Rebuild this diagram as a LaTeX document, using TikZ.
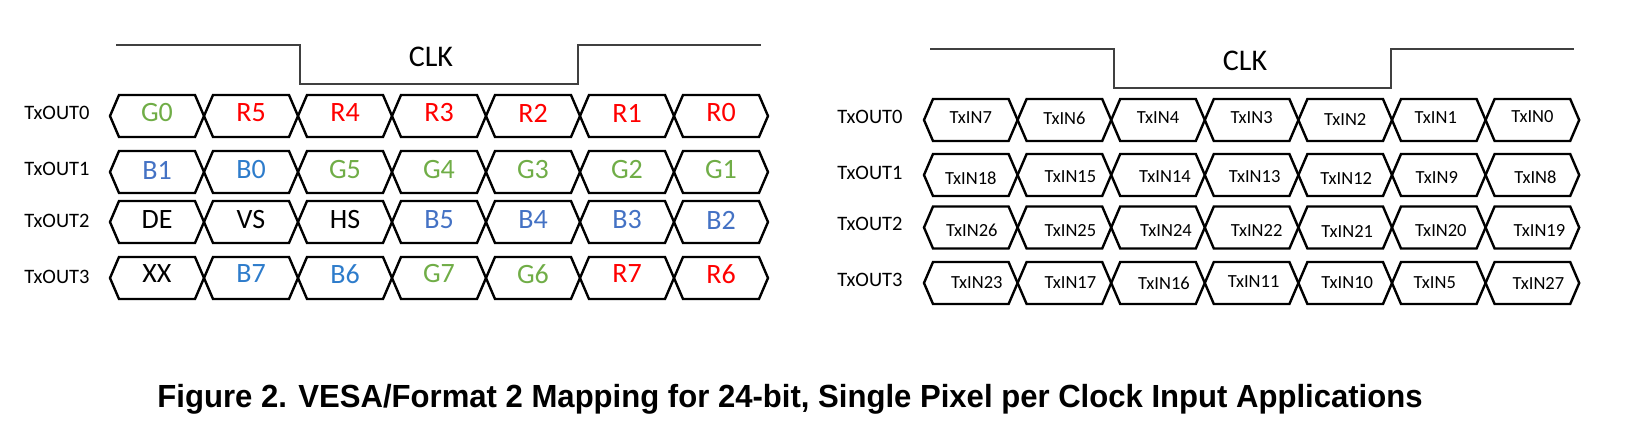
\documentclass[tikz,border=0pt]{standalone}
\usepackage{graphicx}
\usepackage{fontspec}
\setmainfont{Carlito}
\newfontfamily\capfont{Liberation Sans}
\definecolor{cred}{HTML}{FF0000}
\definecolor{cgreen}{HTML}{70AD47}
\definecolor{cblue}{HTML}{4472C4}
\definecolor{cblueb}{HTML}{2E7CCB}
\definecolor{clkgray}{HTML}{404040}
\begin{document}
\begin{tikzpicture}[x=1pt,y=-1pt,
  hexline/.style={line width=2.4pt, line join=miter},
  clkline/.style={draw=clkgray, line width=1.6pt},
  bigtxt/.style={inner sep=0pt, font=\fontsize{28}{28}\selectfont},
  smalltxt/.style={inner sep=0pt, font=\fontsize{18.5}{18.5}\selectfont},
  rowlbl/.style={inner sep=0pt, font=\fontsize{20.5}{20.5}\selectfont},
  clklbl/.style={inner sep=0pt, font=\fontsize{30}{30}\selectfont},
]
\useasboundingbox (0,0) rectangle (1626,440);

% ---------------- left diagram ----------------
\draw[clkline] (116,45) -- (300,45) -- (300,84) -- (578,84) -- (578,45) -- (761,45);
\node[clklbl] (clkL) at (431,57) {CLK};

\foreach \ym in {116,172,222,278} {
  \foreach \k in {0,...,6} {
    \pgfmathsetmacro\xa{110+94*\k}
    \pgfmathsetmacro\xb{110+94*(\k+1)}
    \draw[hexline] (\xa,\ym) -- (\xa+9,\ym-21) -- (\xb-9,\ym-21) -- (\xb,\ym)
      -- (\xb-9,\ym+21) -- (\xa+9,\ym+21) -- cycle;
  }
}

\node[rowlbl] (lL0) at (57,113) {TxOUT0};
\node[rowlbl] (lL1) at (57,169) {TxOUT1};
\node[rowlbl] (lL2) at (57,221) {TxOUT2};
\node[rowlbl] (lL3) at (57,277) {TxOUT3};

\foreach \t/\c [count=\k from 0] in {G0/cgreen,R5/cred,R4/cred,R3/cred,R2/cred,R1/cred,R0/cred}
  \node[bigtxt,text=\c] (La\k) at (157+94*\k,113) {\t};
\foreach \t/\c [count=\k from 0] in {B1/cblue,B0/cblueb,G5/cgreen,G4/cgreen,G3/cgreen,G2/cgreen,G1/cgreen}
  \node[bigtxt,text=\c] (Lb\k) at (157+94*\k,170) {\t};
\foreach \t/\c [count=\k from 0] in {DE/black,VS/black,HS/black,B5/cblue,B4/cblue,B3/cblue,B2/cblue}
  \node[bigtxt,text=\c] (Lc\k) at (157+94*\k,220) {\t};
\foreach \t/\c [count=\k from 0] in {XX/black,B7/cblueb,B6/cblueb,G7/cgreen,G6/cgreen,R7/cred,R6/cred}
  \node[bigtxt,text=\c] (Ld\k) at (157+94*\k,274) {\t};

% ---------------- right diagram ----------------
\draw[clkline] (930,49) -- (1114,49) -- (1114,88) -- (1391,88) -- (1391,49) -- (1574,49);
\node[clklbl] (clkR) at (1245,61) {CLK};

\foreach \ym in {120,175,227.5,283} {
  \foreach \k in {0,...,6} {
    \pgfmathsetmacro\xa{924+93.6*\k}
    \pgfmathsetmacro\xb{924+93.6*(\k+1)}
    \draw[hexline] (\xa,\ym) -- (\xa+9,\ym-21) -- (\xb-9,\ym-21) -- (\xb,\ym)
      -- (\xb-9,\ym+21) -- (\xa+9,\ym+21) -- cycle;
  }
}

\node[rowlbl] (rL0) at (870,117) {TxOUT0};
\node[rowlbl] (rL1) at (870,173) {TxOUT1};
\node[rowlbl] (rL2) at (870,224) {TxOUT2};
\node[rowlbl] (rL3) at (870,280) {TxOUT3};

\foreach \t/\dx/\dy [count=\k from 0] in {TxIN7/0/-2,TxIN6/0/-2,TxIN4/0/-2,TxIN3/0/-2,TxIN2/0/-1,TxIN1/-3/-2,TxIN0/0/-3}
  \node[smalltxt] (Ra\k) at ({970.8+93.6*\k+\dx},{120+\dy}) {\t};
\foreach \t/\dx/\dy [count=\k from 0] in {TxIN18/0/3,TxIN15/6/2,TxIN14/7/2,TxIN13/3/2,TxIN12/1/3,TxIN9/-2/2,TxIN8/3/2}
  \node[smalltxt] (Rb\k) at ({970.8+93.6*\k+\dx},{175+\dy}) {\t};
\foreach \t/\dx/\dy [count=\k from 0] in {TxIN26/1/3,TxIN25/6/3,TxIN24/8/3,TxIN22/5/3,TxIN21/2/4,TxIN20/2/3,TxIN19/7/3}
  \node[smalltxt] (Rc\k) at ({970.8+93.6*\k+\dx},{227.5+\dy}) {\t};
\foreach \t/\dx/\dy [count=\k from 0] in {TxIN23/6/0,TxIN17/6/0,TxIN16/6/0,TxIN11/2/-1,TxIN10/2/0,TxIN5/-4/0,TxIN27/6/0}
  \node[smalltxt] (Rd\k) at ({970.8+93.6*\k+\dx},{283+\dy}) {\t};

% ---------------- caption ----------------
\node[anchor=base, inner sep=0pt] (cap) at (790,407)
  {\resizebox{1265pt}{\height}{\capfont\bfseries\fontsize{32}{32}\selectfont Figure 2. VESA/Format 2 Mapping for 24-bit, Single Pixel per Clock Input Applications}};
\end{tikzpicture}
\end{document}
